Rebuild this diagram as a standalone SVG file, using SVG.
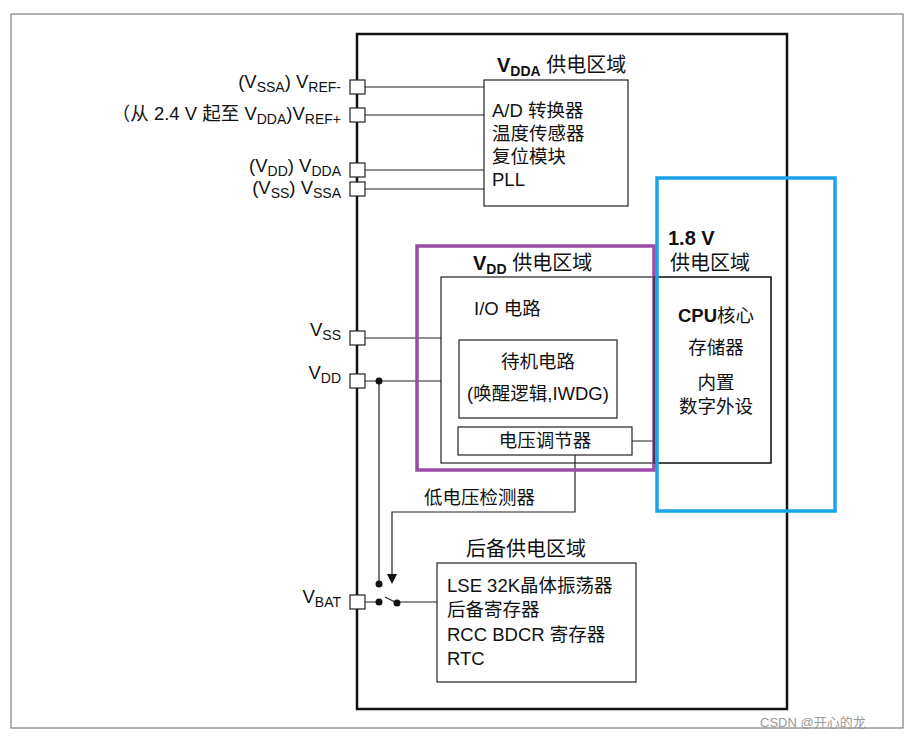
<svg xmlns="http://www.w3.org/2000/svg" width="910" height="741" viewBox="0 0 910 741">
<style>
text{font-family:"Liberation Sans","Noto Sans CJK SC",sans-serif;font-size:18.5px;fill:#111}
.r{text-anchor:end}
.c{text-anchor:middle}
.t{font-size:20px}
.b{fill:none;stroke:#222;stroke-width:1.2}
.w{fill:#fff;stroke:#222;stroke-width:1.2}
.l{stroke:#222;stroke-width:1.2;fill:none}
.s{font-size:14px}
</style>
<rect width="910" height="741" fill="#fff"/>
<rect x="11" y="14" width="892" height="714" fill="none" stroke="#666"/>
<rect id="chip" x="357" y="34" width="430" height="675" fill="none" stroke="#111" stroke-width="2.5"/>
<g id="connectors">
<path class="l" d="M365 87H484M365 115H484M365 170H484M365 189H484M365 338H441M365 381H441M632 441H654M379 381V584M365 602H379M385 597L397 603M397 602H437M575 455V512H392V575"/>
<polygon points="387,574 397,574 392,584" fill="#111"/>
<circle cx="379" cy="381" r="3.5" fill="#111"/><circle cx="379" cy="584" r="3.5" fill="#111"/><circle cx="379" cy="602" r="3.5" fill="#111"/><circle cx="397" cy="603" r="3.5" fill="#111"/>
</g>
<g id="pins">
<rect class="w" x="350" y="80" width="15" height="14"/><rect class="w" x="350" y="108" width="15" height="14"/>
<rect class="w" x="350" y="163" width="15" height="14"/><rect class="w" x="350" y="182" width="15" height="14"/>
<rect class="w" x="350" y="331" width="15" height="14"/><rect class="w" x="350" y="374" width="15" height="14"/>
<rect class="w" x="350" y="595" width="15" height="14"/>
<text class="r" x="341" y="88">(V<tspan class="s" dy="4">SSA</tspan><tspan dy="-4">)  V</tspan><tspan class="s" dy="4">REF-</tspan></text>
<text class="r" x="341" y="120">（从 2.4 V 起至 V<tspan class="s" dy="4">DDA</tspan><tspan dy="-4">)V</tspan><tspan class="s" dy="4">REF+</tspan></text>
<text class="r" x="341" y="172">(V<tspan class="s" dy="4">DD</tspan><tspan dy="-4">)   V</tspan><tspan class="s" dy="4">DDA</tspan></text>
<text class="r" x="341" y="194">(V<tspan class="s" dy="4">SS</tspan><tspan dy="-4">)   V</tspan><tspan class="s" dy="4">SSA</tspan></text>
<text class="r" x="341" y="336">V<tspan class="s" dy="4">SS</tspan></text>
<text class="r" x="341" y="379">V<tspan class="s" dy="4">DD</tspan></text>
<text class="r" x="341" y="603">V<tspan class="s" dy="4">BAT</tspan></text>
</g>
<g id="vdda">
<rect class="b" x="484" y="80" width="144" height="126"/>
<text class="t" x="497" y="72" font-weight="bold">V<tspan class="s" dy="4">DDA</tspan><tspan dy="-4" font-weight="normal"> 供电区域</tspan></text>
<text x="492" y="117">A/D 转换器</text><text x="492" y="140">温度传感器</text><text x="492" y="163">复位模块</text><text x="492" y="186">PLL</text>
</g>
<g id="vdd">
<rect class="b" x="441" y="277" width="330" height="186"/>
<rect x="417" y="246" width="237" height="224" fill="none" stroke="#9b4aa6" stroke-width="3.5"/>
<text class="t" x="473" y="270" font-weight="bold">V<tspan class="s" dy="4">DD</tspan><tspan dy="-4" font-weight="normal"> 供电区域</tspan></text>
<text x="474" y="315">I/O 电路</text>
<rect class="b" x="459" y="340" width="158" height="78"/>
<text class="c" x="538" y="368">待机电路</text><text class="c" x="538" y="400">(唤醒逻辑,IWDG)</text>
<rect class="b" x="458" y="427" width="174" height="28"/>
<text class="c" x="545" y="447">电压调节器</text>
<text x="424" y="504">低电压检测器</text>
</g>
<g id="core">
<rect class="b" x="654" y="277" width="117" height="186"/>
<rect x="657" y="178" width="178" height="333" fill="none" stroke="#1aa3e8" stroke-width="3.5"/>
<text class="t" x="668" y="245" font-weight="bold">1.8 V</text><text class="t" x="670" y="270">供电区域</text>
<text class="c" x="716" y="322"><tspan font-weight="bold">CPU</tspan>核心</text>
<text class="c" x="716" y="354">存储器</text><text class="c" x="716" y="389">内置</text><text class="c" x="716" y="413">数字外设</text>
</g>
<g id="backup">
<rect class="b" x="437" y="563" width="199" height="119"/>
<text class="t" x="466" y="556">后备供电区域</text>
<text x="447" y="592">LSE  32K晶体振荡器</text><text x="447" y="616">后备寄存器</text><text x="447" y="641">RCC BDCR 寄存器</text><text x="447" y="665">RTC</text>
</g>
<text x="760" y="727" style="font-size:13px;fill:#999">CSDN @开心的龙</text>
</svg>
